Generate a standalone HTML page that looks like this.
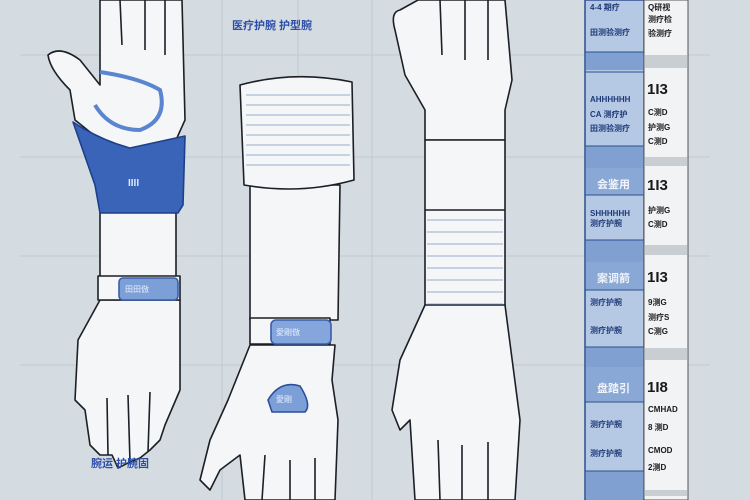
<!DOCTYPE html>
<html><head><meta charset="utf-8"><style>
html,body{margin:0;padding:0;background:#d5dce1;}
svg{display:block;font-family:"Liberation Sans","Noto Sans CJK SC",sans-serif;}
</style></head><body>
<svg width="750" height="500" viewBox="0 0 750 500" xmlns="http://www.w3.org/2000/svg">
<rect width="750" height="500" fill="#d5dce1"/>
<g stroke="#c2cad0" stroke-width="1">
<line x1="222" y1="0" x2="222" y2="500"/><line x1="298" y1="0" x2="298" y2="500"/><line x1="372" y1="0" x2="372" y2="500"/>
<line x1="20" y1="55" x2="710" y2="55"/><line x1="20" y1="157" x2="710" y2="157"/><line x1="20" y1="256" x2="710" y2="256"/><line x1="20" y1="365" x2="710" y2="365"/>
</g>
<g fill="#f4f6f8" stroke="#1c1f26" stroke-width="1.6" stroke-linejoin="round">
<path d="M100,0 L100,85 L80,60 Q60,45 48,55 Q50,70 70,90 L75,120 L100,140 L100,280 L176,280 L176,140 L185,120 L182,0 Z"/>
<path d="M120,0 L122,45 M145,0 L145,50 M165,0 L165,55" fill="none"/>
<path d="M73,122 Q100,140 130,148 L185,136 L183,205 L178,213 L100,213 L95,185 Z" fill="#3a64b8" stroke="#1e3f8a"/>
<path d="M100,72 Q140,78 160,90 Q168,120 140,130 Q110,130 95,105" fill="none" stroke="#5b86cf" stroke-width="4"/>
<path d="M100,300 L78,340 L75,400 L85,410 L90,445 L100,455 L112,455 L118,468 L130,462 L140,458 L150,450 L160,440 L165,425 L180,390 L180,300 Z"/>
<path d="M107,398 L108,455 M128,395 L130,462 M150,392 L148,452" fill="none"/>
<rect x="98" y="276" width="82" height="24" fill="#f4f6f8"/>
<rect x="119" y="278" width="59" height="22" rx="4" fill="#7d9fd8" stroke="#3a5ea8"/>
<path d="M250,185 L250,320 L338,320 L340,185 Z"/>
<path d="M240,85 Q295,70 352,82 L354,180 Q300,195 244,185 Z"/>
<path d="M200,480 L210,440 L228,400 L250,345 L335,345 L332,380 L338,420 L335,500 L245,500 L240,455 L220,470 L210,490 Z"/>
<rect x="250" y="318" width="80" height="26" fill="#f4f6f8"/>
<rect x="271" y="320" width="60" height="24" rx="5" fill="#85a6dc" stroke="#3a5ea8"/>
<path d="M268,400 Q280,380 300,386 Q312,405 305,412 L272,412 Z" fill="#7d9fd8" stroke="#2d4f99"/>
<path d="M265,455 L262,500 M290,460 L290,500 M315,458 L315,500" fill="none"/>
<path d="M400,10 Q390,12 395,30 L405,75 L425,110 L425,140 L505,140 L505,110 L512,80 L505,0 L418,0 Z"/>
<path d="M440,0 L442,55 M465,0 L465,60 M488,0 L488,60" fill="none"/>
<rect x="425" y="140" width="80" height="180"/>
<path d="M425,305 L400,360 L392,410 L400,430 L410,420 L415,500 L515,500 L520,420 L505,305 Z"/>
<path d="M438,440 L440,500 M462,445 L462,500 M488,442 L488,500" fill="none"/>
</g>
<g stroke="#7a93bf" stroke-width="0.8">
<line x1="246" y1="95" x2="350" y2="95"/><line x1="246" y1="105" x2="350" y2="105"/><line x1="246" y1="115" x2="350" y2="115"/><line x1="246" y1="125" x2="350" y2="125"/><line x1="246" y1="135" x2="350" y2="135"/><line x1="246" y1="145" x2="350" y2="145"/><line x1="246" y1="155" x2="350" y2="155"/><line x1="246" y1="165" x2="350" y2="165"/>
<line x1="427" y1="220" x2="503" y2="220"/><line x1="427" y1="232" x2="503" y2="232"/><line x1="427" y1="244" x2="503" y2="244"/><line x1="427" y1="256" x2="503" y2="256"/><line x1="427" y1="268" x2="503" y2="268"/><line x1="427" y1="280" x2="503" y2="280"/><line x1="427" y1="292" x2="503" y2="292"/><line x1="427" y1="304" x2="503" y2="304"/>
</g>
<line x1="425" y1="210" x2="505" y2="210" stroke="#1c1f26" stroke-width="1.5"/>
<text x="128" y="186" font-size="10" fill="#dfe8ff" font-weight="bold">IIII</text>
<text x="125" y="292" font-size="8" fill="#e9f0ff">田田倣</text>
<text x="276" y="335" font-size="8" fill="#e9f0ff">愛剛倣</text>
<text x="276" y="402" font-size="8" fill="#e9f0ff">愛剛</text>
<text x="232" y="29" font-size="11" fill="#2b4ea8" font-weight="bold">医疗护腕  护型腕</text>
<text x="91" y="467" font-size="11" fill="#2b4ea8" font-weight="bold">腕运 护腕固</text>
<rect x="585" y="0" width="59" height="500" fill="#b6c9e4" stroke="#2d4f8f" stroke-width="1.5"/>
<g fill="#7fa0d0"><rect x="586" y="52" width="57" height="18"/><rect x="586" y="146" width="57" height="22"/><rect x="586" y="168" width="57" height="27" fill="#8aa8d5"/><rect x="586" y="240" width="57" height="22"/><rect x="586" y="262" width="57" height="28" fill="#8aa8d5"/><rect x="586" y="347" width="57" height="20"/><rect x="586" y="367" width="57" height="35" fill="#8aa8d5"/><rect x="586" y="471" width="57" height="29"/></g>
<g stroke="#2d4f8f" stroke-width="1"><line x1="585" y1="52" x2="644" y2="52"/><line x1="585" y1="72" x2="644" y2="72"/><line x1="585" y1="146" x2="644" y2="146"/><line x1="585" y1="195" x2="644" y2="195"/><line x1="585" y1="240" x2="644" y2="240"/><line x1="585" y1="290" x2="644" y2="290"/><line x1="585" y1="347" x2="644" y2="347"/><line x1="585" y1="402" x2="644" y2="402"/><line x1="585" y1="471" x2="644" y2="471"/></g>
<rect x="644" y="0" width="44" height="500" fill="#f2f3f5" stroke="#555" stroke-width="1"/>
<g fill="#c9ced3"><rect x="645" y="55" width="42" height="13"/><rect x="645" y="157" width="42" height="9"/><rect x="645" y="245" width="42" height="10"/><rect x="645" y="348" width="42" height="12"/><rect x="645" y="490" width="42" height="6"/></g>
<g fill="#1e3a78" font-size="8" font-weight="bold">
<text x="590" y="10">4-4 期疗</text><text x="590" y="35">田测验测疗</text>
<text x="590" y="102">AHHHHHH</text><text x="590" y="117">CA 测疗护</text><text x="590" y="131">田测验测疗</text>
<text x="590" y="216">SHHHHHH</text><text x="590" y="226">测疗护腕</text>
<text x="590" y="305">测疗护腕</text><text x="590" y="333">测疗护腕</text>
<text x="590" y="427">测疗护腕</text><text x="590" y="456">测疗护腕</text>
</g>
<g fill="#f1f5fb" font-size="11" font-weight="bold"><text x="597" y="188">会鉴用</text><text x="597" y="282">案调箭</text><text x="597" y="392">盘踏引</text></g>
<g fill="#1a1a1a" font-weight="bold">
<g font-size="8"><text x="648" y="10">Q研视</text><text x="648" y="22">测疗检</text><text x="648" y="36">验测疗</text>
<text x="648" y="115">C测D</text><text x="648" y="130">护测G</text><text x="648" y="144">C测D</text>
<text x="648" y="213">护测G</text><text x="648" y="227">C测D</text>
<text x="648" y="305">9测G</text><text x="648" y="320">测疗S</text><text x="648" y="334">C测G</text>
<text x="648" y="412">CMHAD</text><text x="648" y="430">8 测D</text><text x="648" y="453">CMOD</text><text x="648" y="470">2测D</text></g>
<g font-size="15"><text x="647" y="94">1I3</text><text x="647" y="190">1I3</text><text x="647" y="282">1I3</text><text x="647" y="392">1I8</text></g>
</g>
</svg>
</body></html>
